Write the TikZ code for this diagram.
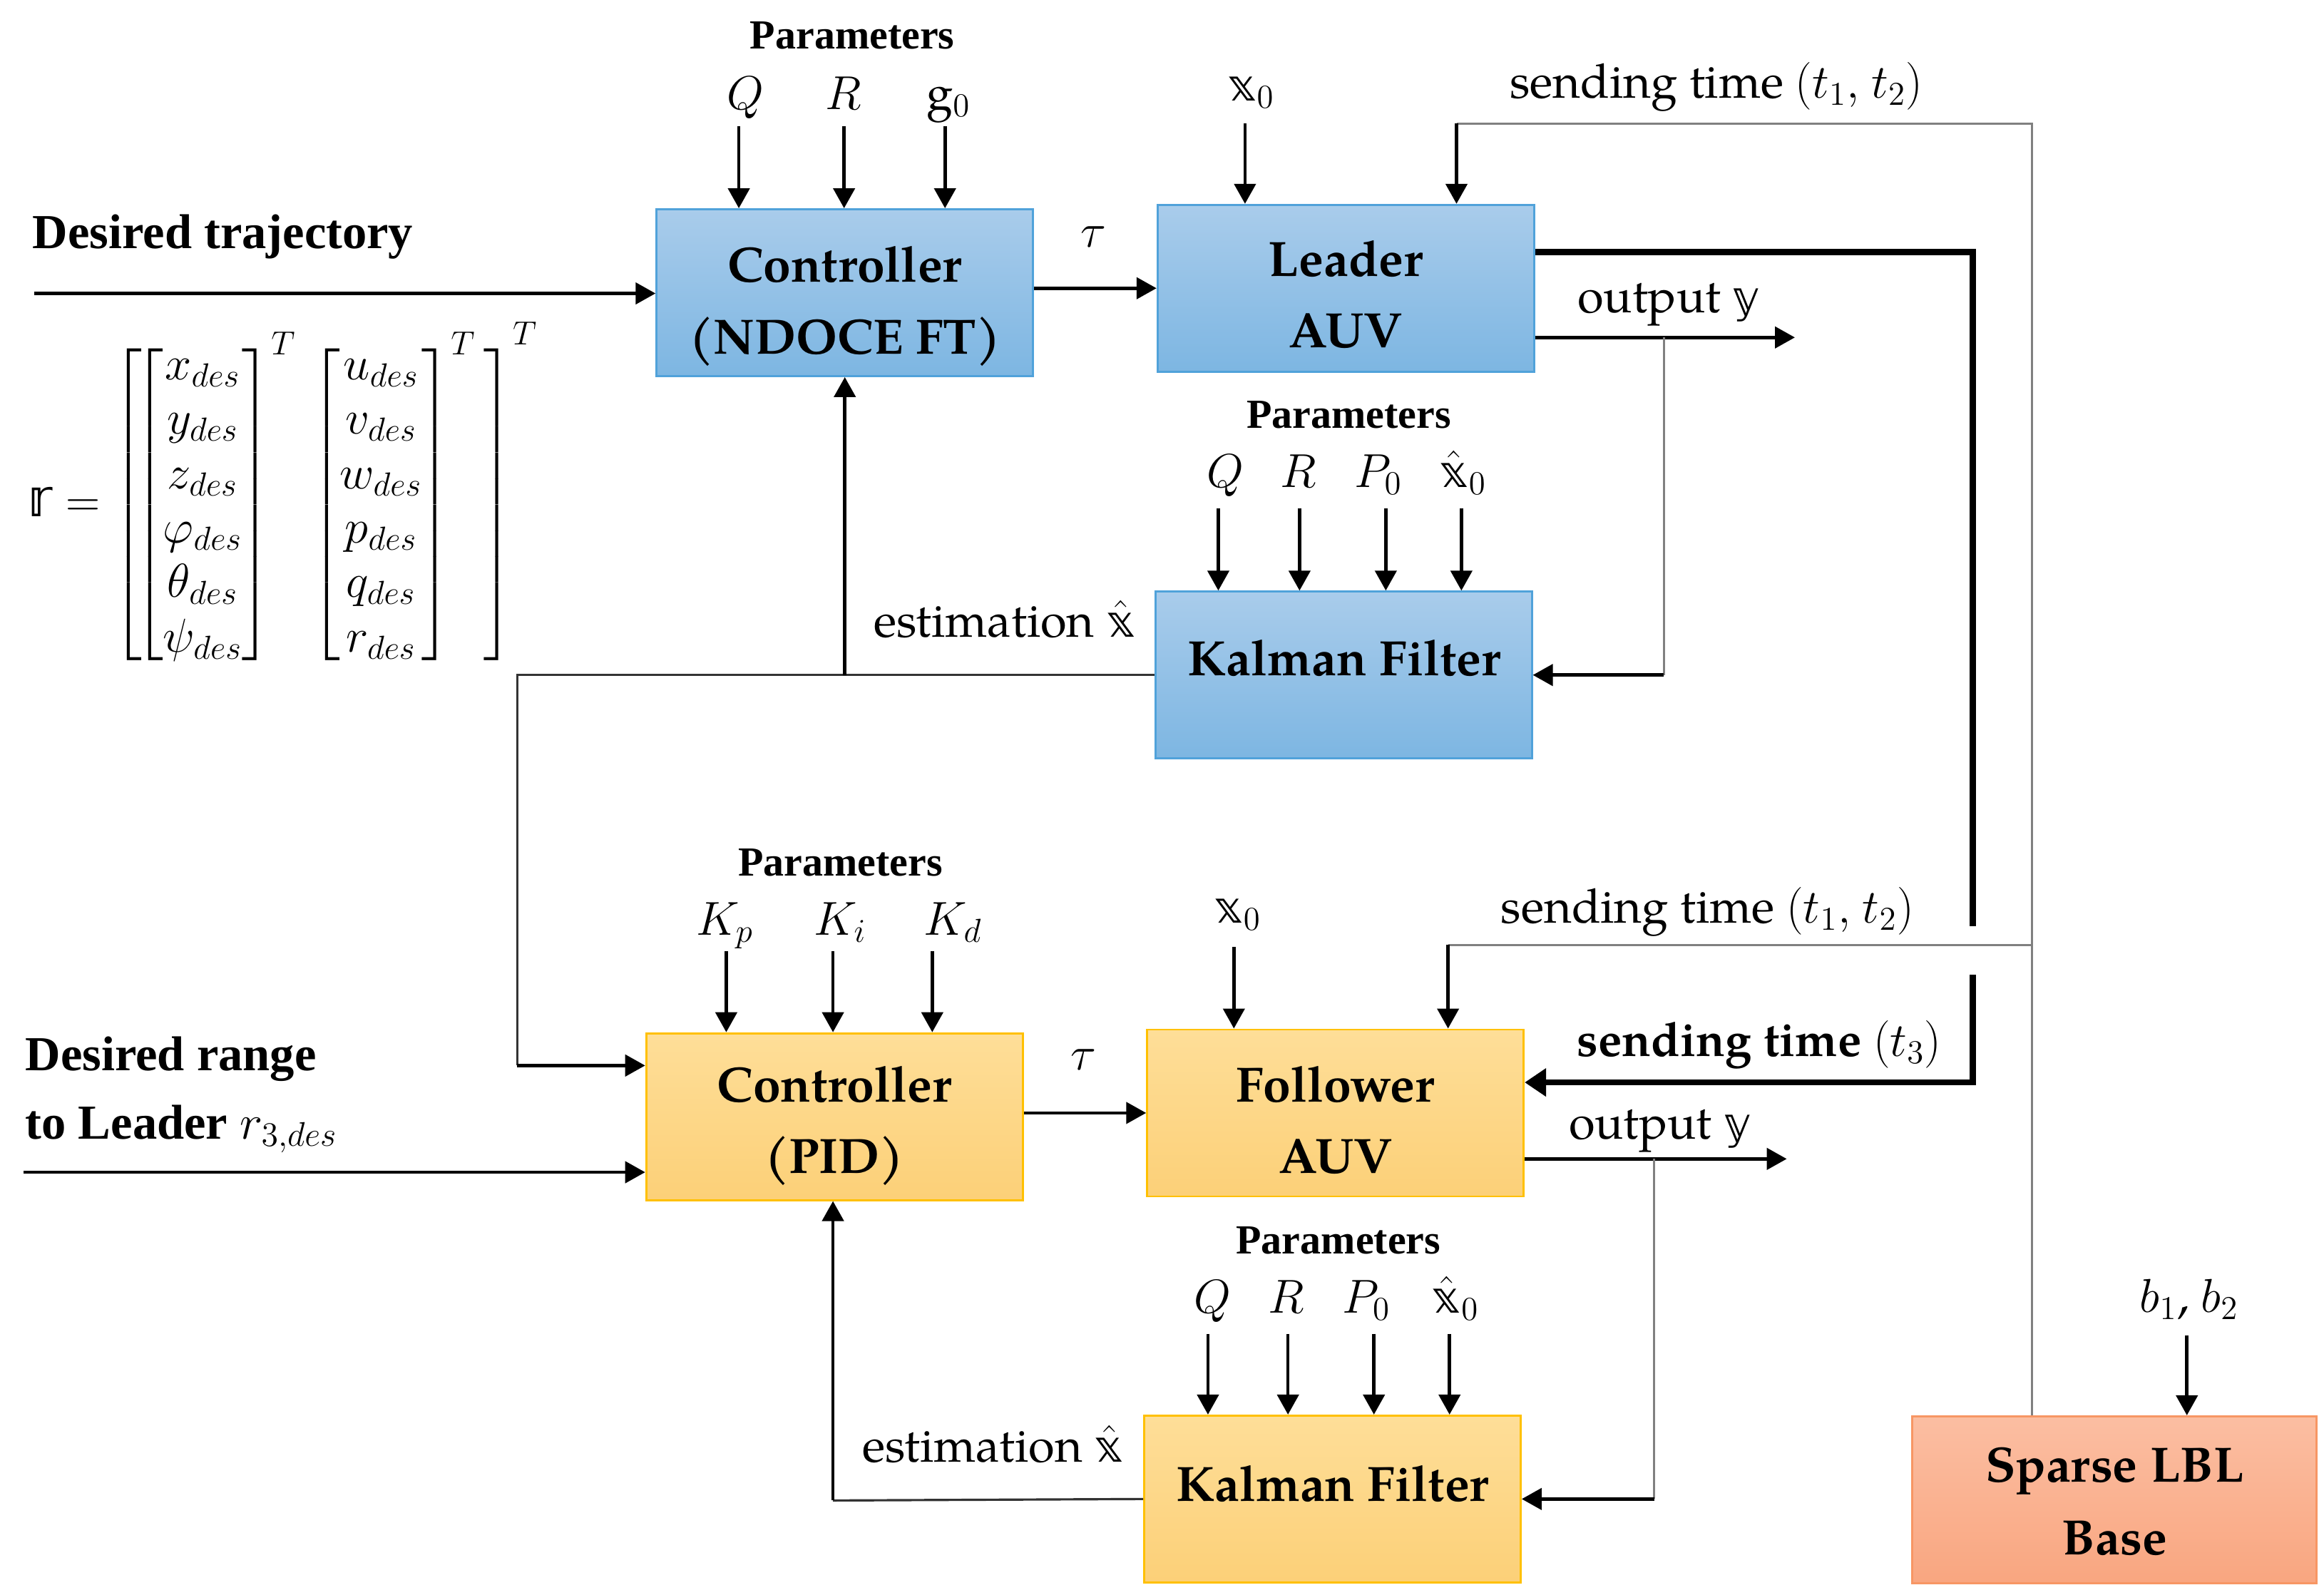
\RequirePackage{fix-cm}
\documentclass[tikz,border=0pt]{standalone}
\usepackage{amsmath}
\usepackage{fontspec}
\setmainfont{TeX Gyre Pagella}
\newfontfamily\tms{Liberation Serif}
\newfontfamily\djv{DejaVu Sans}[Scale=0.92]
\newfontfamily\djvbig{DejaVu Sans}[Scale=1.1]
\usetikzlibrary{arrows.meta}
\newcommand\bbx{\text{\djv 𝕩}}
\newcommand\bby{\text{\djv 𝕪}}
\newcommand\bbr{\text{\djvbig 𝕣}}
\definecolor{bluetop}{RGB}{169,204,235}
\definecolor{bluebot}{RGB}{125,182,226}
\definecolor{blueedge}{RGB}{80,162,218}
\definecolor{yeltop}{RGB}{254,222,152}
\definecolor{yelbot}{RGB}{252,208,120}
\definecolor{yeledge}{RGB}{255,192,0}
\definecolor{orgtop}{RGB}{251,190,162}
\definecolor{orgbot}{RGB}{249,166,128}
\definecolor{orgedge}{RGB}{247,150,100}
\tikzset{
  every node/.style={font=\fontsize{19}{23}\selectfont, inner sep=0pt},
  boxnode/.style={draw, line width=0.8pt, minimum width=5.28cm, minimum height=2.34cm},
  bluebox/.style={boxnode, draw=blueedge, top color=bluetop, bottom color=bluebot},
  yelbox/.style={boxnode, draw=yeledge, top color=yeltop, bottom color=yelbot},
  orgbox/.style={boxnode, draw=orgedge, top color=orgtop, bottom color=orgbot},
  boxtxt/.style={anchor=base, font=\fontsize{19.8}{24}\selectfont\bfseries},
  arr/.style={line width=1.3pt, -{Triangle[length=0.28cm,width=0.3cm]}},
  thickarr/.style={line width=2.4pt, -{Triangle[length=0.3cm,width=0.38cm]}},
  tline/.style={line width=2.4pt},
  thinline/.style={line width=0.9pt, black!80},
  gline/.style={line width=0.9pt, black!50},
  bparam/.style={anchor=base, font=\tms\bfseries\fontsize{16.5}{20}\selectfont},
  bdes/.style={anchor=base west, font=\tms\bfseries\fontsize{19.5}{24}\selectfont},
  lab/.style={anchor=base}
}
\begin{document}
\begin{tikzpicture}[x=0.020784cm, y=-0.020784cm]
\useasboundingbox (0,0) rectangle (1568,1076);

% ---------- boxes ----------
\node[bluebox] (ctrl) at (570,197.5) {};
\node[bluebox] (leader) at (908,194.5) {};
\node[bluebox] (kf1) at (906.5,455.5) {};
\node[yelbox] (pid) at (563,753.5) {};
\node[yelbox] (follower) at (901,751) {};
\node[yelbox] (kf2) at (899,1011.5) {};
\node[orgbox, minimum width=5.67cm] (lbl) at (1426.7,1012) {};

\node[boxtxt] (ctrlA) at (570,190.4) {Controller};
\node[boxtxt] (ctrlB) at (570,239) {(NDOCE FT)};
\node[boxtxt] (leadA) at (908,186.5) {Leader};
\node[boxtxt] (leadB) at (908,234.6) {AUV};
\node[boxtxt] (kf1t) at (907,456) {Kalman Filter};
\node[boxtxt] (pidA) at (563,743.5) {Controller};
\node[boxtxt] (pidB) at (563,791.6) {(PID)};
\node[boxtxt] (folA) at (901,743.5) {Follower};
\node[boxtxt] (folB) at (901,791.6) {AUV};
\node[boxtxt] (kf2t) at (899,1013) {Kalman Filter};
\node[boxtxt] (lblA) at (1426.7,1000) {Sparse LBL};
\node[boxtxt] (lblB) at (1426.7,1049) {Base};

% ---------- left texts ----------
\node[bdes] (dt) at (21.7,167.5) {Desired trajectory};
\node[bdes] (dr1) at (16.8,722.6) {Desired range};
\node[bdes] (dr2) at (16.8,768.5) {to Leader \normalfont$r_{3,des}$};
\node[anchor=west, font=\fontsize{19}{21.7}\selectfont] (mat) at (18,334)
 {\delimitershortfall=15pt\delimiterfactor=850
 $\bbr = \left[\!\begin{bmatrix} x_{des}\\ y_{des}\\ z_{des}\\ \varphi_{des}\\ \theta_{des}\\ \psi_{des}\end{bmatrix}^{T}
 \hspace{0.15em} \begin{bmatrix} u_{des}\\ v_{des}\\ w_{des}\\ p_{des}\\ q_{des}\\ r_{des}\end{bmatrix}^{T}\,\right]^{T}$};

% ---------- top controller parameters ----------
\node[bparam] (par1) at (575,33) {Parameters};
\node[lab] (q1) at (503,74) {$Q$};
\node[lab] (r1) at (569,74) {$R$};
\node[lab] (g1l) at (640,74) {$\mathrm{g}_0$};
\coordinate (qa1) at (498.5,85);
\coordinate (ra1) at (569.5,85);
\coordinate (ga1) at (637.6,85);
\draw[arr] (qa1) -- (qa1 |- ctrl.north);
\draw[arr] (ra1) -- (ra1 |- ctrl.north);
\draw[arr] (ga1) -- (ga1 |- ctrl.north);

% ---------- leader inputs ----------
\node (tau1) at (738,160) {$\tau$};
\draw[arr] (ctrl.east |- leader.west) -- (leader.west);
\coordinate (dts) at (23,198);
\draw[arr] (dts) -- (dts -| ctrl.west);
\node[lab] (x01) at (844,68) {$\bbx_0$};
\coordinate (xa1) at (840,83.4);
\draw[arr] (xa1) -- (xa1 |- leader.north);
\node[lab] (st1) at (1158,66) {sending time $(t_1{,}\ t_2)$};
\coordinate (g1) at (1371,83.4);
\coordinate (g2) at (982.7,83.4);
\draw[gline] (g1 |- lbl.north) -- (g1) -- (g2);
\draw[arr] (g2) -- (g2 |- leader.north);

% ---------- leader outputs ----------
\coordinate (tk1) at (1331,170);
\coordinate (tk2) at (1331,625);
\coordinate (tk3) at (1331,657.8);
\coordinate (tk4) at (1331,730.4);
\draw[tline] (leader.east |- tk1) -- (tk1) -- (tk2);
\node[lab] (out1) at (1126,211) {output $\bby$};
\coordinate (oy1) at (1211,227.7);
\coordinate (tp1) at (1122.7,227.7);
\draw[arr] (leader.east |- oy1) -- (oy1);
\draw[gline] (tp1) -- (tp1 |- kf1.east);
\draw[arr] (tp1 |- kf1.east) -- (kf1.east);

% ---------- top Kalman parameters ----------
\node[bparam] (par2) at (910,289) {Parameters};
\node[lab] (q2) at (827,329) {$Q$};
\node[lab] (r2) at (876,329) {$R$};
\node[lab] (p2) at (930,329) {$P_0$};
\node[lab] (xh2) at (987,329) {$\hat{\bbx}_0$};
\coordinate (ka1) at (822,343);
\coordinate (ka2) at (876.8,343);
\coordinate (ka3) at (935,343);
\coordinate (ka4) at (986,343);
\draw[arr] (ka1) -- (ka1 |- kf1.north);
\draw[arr] (ka2) -- (ka2 |- kf1.north);
\draw[arr] (ka3) -- (ka3 |- kf1.north);
\draw[arr] (ka4) -- (ka4 |- kf1.north);

% ---------- top estimation ----------
\node[lab] (est1) at (678,430) {estimation $\hat{\bbx}$};
\coordinate (j1) at (349,455.5);
\coordinate (j2) at (570,455.5);
\coordinate (j3) at (349,719);
\draw[thinline] (kf1.west) -- (j1) -- (j3);
\draw[arr] (j3) -- (j3 -| pid.west);
\draw[arr] (j2) -- (ctrl.south);

% ---------- PID parameters ----------
\node[bparam] (par3) at (567,591) {Parameters};
\node[lab] (kp) at (489,631) {$K_p$};
\node[lab] (ki) at (567,631) {$K_i$};
\node[lab] (kd) at (643,631) {$K_d$};
\coordinate (pa1) at (490,642);
\coordinate (pa2) at (562,642);
\coordinate (pa3) at (629,642);
\draw[arr] (pa1) -- (pa1 |- pid.north);
\draw[arr] (pa2) -- (pa2 |- pid.north);
\draw[arr] (pa3) -- (pa3 |- pid.north);
\coordinate (drs) at (16,791);
\draw[arr] (drs) -- (drs -| pid.west);

% ---------- follower inputs ----------
\node (tau2) at (731,715) {$\tau$};
\draw[arr] (pid.east |- follower.west) -- (follower.west);
\node[lab] (x02) at (835,623) {$\bbx_0$};
\coordinate (xa2) at (832.5,639);
\draw[arr] (xa2) -- (xa2 |- follower.north);
\node[lab] (st2) at (1152,623) {sending time $(t_1{,}\ t_2)$};
\coordinate (g3) at (1371,637.6);
\coordinate (g4) at (977,637.6);
\draw[gline] (g3) -- (g4);
\draw[arr] (g4) -- (g4 |- follower.north);
\node[lab] (st3) at (1187,713) {\bfseries sending time $(t_3)$};
\draw[thickarr] (tk3) -- (tk4) -- (tk4 -| follower.east);

% ---------- follower outputs ----------
\node[lab] (out2) at (1120,768.5) {output $\bby$};
\coordinate (oy2) at (1205.5,782);
\coordinate (tp2) at (1116,782);
\draw[arr] (follower.east |- oy2) -- (oy2);
\draw[gline] (tp2) -- (tp2 |- kf2.east);
\draw[arr] (tp2 |- kf2.east) -- (kf2.east);

% ---------- bottom Kalman parameters ----------
\node[bparam] (par4) at (903,846) {Parameters};
\node[lab] (q4) at (818,886) {$Q$};
\node[lab] (r4) at (868,886) {$R$};
\node[lab] (p4) at (922,886) {$P_0$};
\node[lab] (xh4) at (982,886) {$\hat{\bbx}_0$};
\coordinate (kb1) at (815,900);
\coordinate (kb2) at (869,900);
\coordinate (kb3) at (927,900);
\coordinate (kb4) at (978,900);
\draw[arr] (kb1) -- (kb1 |- kf2.north);
\draw[arr] (kb2) -- (kb2 |- kf2.north);
\draw[arr] (kb3) -- (kb3 |- kf2.north);
\draw[arr] (kb4) -- (kb4 |- kf2.north);

% ---------- bottom estimation ----------
\node[lab] (est2) at (670,986.5) {estimation $\hat{\bbx}$};
\coordinate (j4) at (562,1012.5);
\draw[thinline] (kf2.west) -- (j4);
\draw[arr] (j4) -- (j4 |- pid.south);

% ---------- LBL base ----------
\node[lab] (b12) at (1477,885.5) {$b_1$, $b_2$};
\coordinate (ba) at (1475.5,901);
\draw[arr] (ba) -- (ba |- lbl.north);
\end{tikzpicture}
\end{document}
